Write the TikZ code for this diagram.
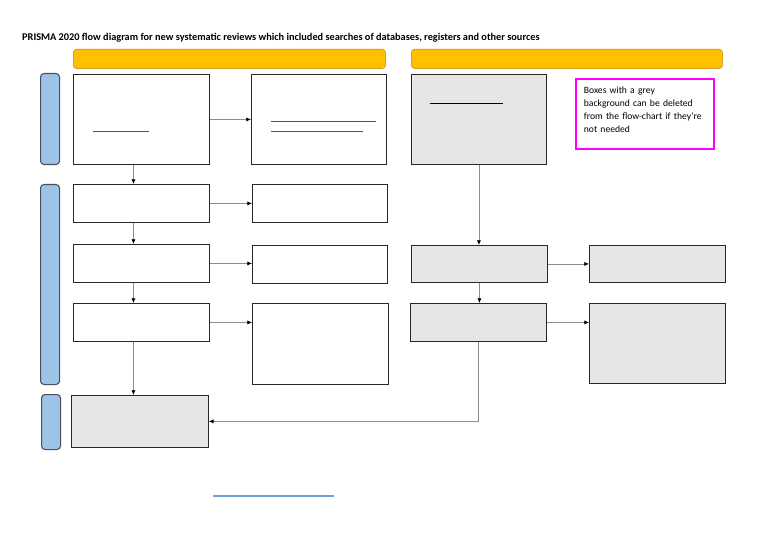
\documentclass[tikz,border=0pt]{standalone}
\usepackage{fontspec}
\setmainfont{Carlito}
\usetikzlibrary{arrows.meta,positioning}
\definecolor{BoxGray}{RGB}{230,230,230}
\definecolor{LineGray}{RGB}{140,140,140}
\definecolor{EdgeDark}{RGB}{40,40,40}
\definecolor{HeadYellow}{RGB}{255,192,0}
\definecolor{HeadEdge}{RGB}{215,160,40}
\definecolor{SideBlue}{RGB}{157,195,230}
\definecolor{SideEdge}{RGB}{70,80,95}
\definecolor{NoteMagenta}{RGB}{255,0,255}
\definecolor{LinkBlue}{RGB}{110,160,220}
\newcommand{\pxu}{0.03cm}

\begin{document}
\begin{tikzpicture}[x=\pxu,y=-\pxu,
  sz/.style 2 args={minimum width=#1*\pxu,minimum height=#2*\pxu},
  box/.style={draw=EdgeDark,line width=0.7pt,fill=white,anchor=north west,inner sep=0pt},
  greybox/.style={box,fill=BoxGray},
  headbar/.style={box,draw=HeadEdge,fill=HeadYellow,rounded corners=2.5pt},
  sidebar/.style={box,draw=SideEdge,fill=SideBlue,line width=0.9pt,rounded corners=3pt},
  blank/.style={draw=EdgeDark!80,line width=0.7pt},
  flow/.style={-{Latex[length=4pt,width=3.5pt,color=black]},draw=LineGray,line width=0.6pt}]
  \useasboundingbox (0,0) rectangle (768,543);

  % title and header bars
  \node[anchor=base west,inner sep=0pt,font=\bfseries\fontsize{8.8}{10}\selectfont] (title) at (22,41)
    {PRISMA 2020 flow diagram for new systematic reviews which included searches of databases, registers and other sources};
  \node[headbar,sz={312}{19}] (headdb) at (73,49) {};
  \node[headbar,sz={311}{19}] (headother) at (411,49) {};

  % side bars
  \node[sidebar,sz={19}{91}] (sideid) at (40,73) {};
  \node[sidebar,sz={19}{200}] (sidescr) at (40,184) {};
  \node[sidebar,sz={19}{55}] (sideinc) at (41,394) {};

  % databases and registers
  \node[box,sz={136}{90}] (recdb) at (73,74) {};
  \node[box,sz={135}{90}] (remdb) at (251,74) {};
  \node[box,sz={136}{38}] (screen) at (73,184) {};
  \node[box,sz={135}{38}] (exscr) at (252,184) {};
  \node[box,sz={136}{38}] (soughtdb) at (73,244) {};
  \node[box,sz={135}{38}] (notretdb) at (252,245) {};
  \node[box,sz={136}{38}] (assessdb) at (73,303) {};
  \node[box,sz={136}{81}] (exreadb) at (252,303) {};
  \node[greybox,sz={137}{52}] (included) at (71,395) {};
  \draw[blank] (93,131) -- (149,131);
  \draw[blank] (271,121) -- (376,121);
  \draw[blank] (271,131) -- (363,131);

  % other methods
  \node[greybox,sz={135}{90}] (recother) at (411,74) {};
  \node[greybox,sz={136}{37}] (soughtot) at (411,245) {};
  \node[greybox,sz={136}{37}] (notretot) at (589,245) {};
  \node[greybox,sz={136}{38}] (assessot) at (410,303) {};
  \node[greybox,sz={136}{80}] (exreaot) at (589,303) {};
  \draw[blank,draw=black] (430,103) -- (503,103);

  % note
  \node[box,draw=NoteMagenta,line width=1.6pt,sz={138}{70},align=left,
    inner xsep=8*\pxu,text width=122*\pxu,font=\fontsize{8.2}{11}\selectfont] (note) at (575,78)
    {Boxes with a grey\\background can be deleted\\from the flow-chart if they're\\not needed\\[-4pt]\mbox{}};

  % connectors
  \draw[flow] (recdb.east) -- (remdb.west);
  \draw[flow] ([xshift=-8*\pxu]recdb.south) -- ([xshift=-8*\pxu]screen.north);
  \draw[flow] (screen.east) -- (exscr.west);
  \draw[flow] ([xshift=-8*\pxu]screen.south) -- ([xshift=-8*\pxu]soughtdb.north);
  \draw[flow] (soughtdb.east) -- (soughtdb.east -| notretdb.west);
  \draw[flow] ([xshift=-8*\pxu]soughtdb.south) -- ([xshift=-8*\pxu]assessdb.north);
  \draw[flow] (assessdb.east) -- (assessdb.east -| exreadb.west);
  \draw[flow] ([xshift=-8*\pxu]assessdb.south) -- ([xshift=-8*\pxu]assessdb.south |- included.north);
  \draw[flow] (recother.south) -- (recother.south |- soughtot.north);
  \draw[flow] (soughtot.east) -- (notretot.west);
  \draw[flow] (soughtot.south) -- (soughtot.south |- assessot.north);
  \draw[flow] (assessot.east) -- (assessot.east -| exreaot.west);
  \draw[flow] (assessot.south) |- (included.east);

  % link underline
  \draw[LinkBlue,line width=1pt] (213,496) -- (334,496);
\end{tikzpicture}
\end{document}
